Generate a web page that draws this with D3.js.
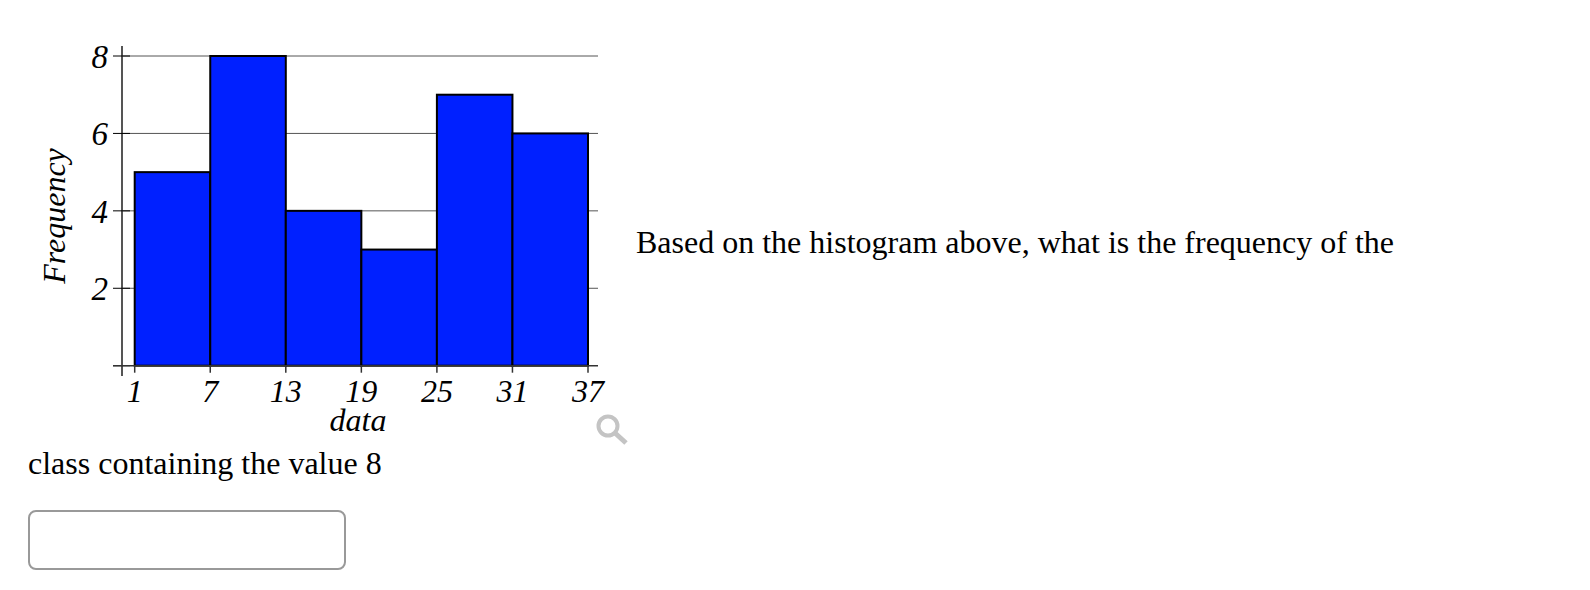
<!DOCTYPE html>
<html>
<head>
<meta charset="utf-8">
<script src="https://cdn.jsdelivr.net/npm/d3@7"></script>
<style>
  html, body { margin: 0; padding: 0; background: #fff; }
  #chart { position: absolute; left: 0; top: 0; }
  text { font-family: "Liberation Serif", serif; fill: #000; }
  .tick-label, .axis-title { font-style: italic; }
  #answer {
    position: absolute; left: 28px; top: 510px; width: 318px; height: 60px;
    box-sizing: border-box; border: 2px solid #999; border-radius: 8px; background: #fff;
  }
</style>
</head>
<body>
<svg id="chart" width="1590" height="590"></svg>
<input id="answer" type="text">
<script>
// Histogram data.
const binEdges    = [ 1, 7, 13, 19, 25, 31, 37 ];
const frequencies = [ 5, 8, 4, 3, 7, 6 ];
const yTicks      = [ 2, 4, 6, 8 ];

const questionTop    = 'Based on the histogram above, what is the frequency of the';
const questionBottom = 'class containing the value 8';

const svg = d3.select( '#chart' );

// Scales. Axes cross slightly outside of the first bin.
const x = d3.scaleLinear( ).domain( [ 1, 37 ] ).range( [ 134.7, 588 ] );
const y = d3.scaleLinear( ).domain( [ 0, 8 ] ).range( [ 365.7, 56 ] );

const axisX = 122;
const plotRight = 598;

// Grid lines, behind the bars.
svg.append( 'g' ).selectAll( 'line' )
  .data( yTicks )
  .enter( ).append( 'line' )
    .attr( 'x1', axisX )
    .attr( 'x2', plotRight )
    .attr( 'y1', d => y( d ) )
    .attr( 'y2', d => y( d ) )
    .attr( 'stroke', '#555' )
    .attr( 'stroke-width', 1 );

// Bars.
svg.append( 'g' ).selectAll( 'rect' )
  .data( frequencies )
  .enter( ).append( 'rect' )
    .attr( 'x', ( d, i ) => x( binEdges[i] ) )
    .attr( 'y', d => y( d ) )
    .attr( 'width', ( d, i ) => x( binEdges[i + 1] ) - x( binEdges[i] ) )
    .attr( 'height', d => y( 0 ) - y( d ) )
    .attr( 'fill', '#0020ff' )
    .attr( 'stroke', '#000' )
    .attr( 'stroke-width', 2 );

// Vertical axis with ticks.
svg.append( 'line' )
  .attr( 'x1', axisX ).attr( 'x2', axisX )
  .attr( 'y1', 46 ).attr( 'y2', 376 )
  .attr( 'stroke', '#555' ).attr( 'stroke-width', 2 );

svg.append( 'g' ).selectAll( 'line' )
  .data( [ 0 ].concat( yTicks ) )
  .enter( ).append( 'line' )
    .attr( 'x1', 113 )
    .attr( 'x2', 130 )
    .attr( 'y1', d => y( d ) )
    .attr( 'y2', d => y( d ) )
    .attr( 'stroke', '#000' )
    .attr( 'stroke-width', 1 );

svg.append( 'g' ).selectAll( 'text' )
  .data( yTicks )
  .enter( ).append( 'text' )
    .attr( 'class', 'tick-label' )
    .attr( 'x', 108 )
    .attr( 'y', d => y( d ) + 12 )
    .attr( 'text-anchor', 'end' )
    .attr( 'font-size', 33 )
    .text( d => d );

// Horizontal axis with ticks.
svg.append( 'line' )
  .attr( 'x1', 113 ).attr( 'x2', plotRight )
  .attr( 'y1', y( 0 ) ).attr( 'y2', y( 0 ) )
  .attr( 'stroke', '#333' ).attr( 'stroke-width', 1.5 );

svg.append( 'g' ).selectAll( 'line' )
  .data( binEdges )
  .enter( ).append( 'line' )
    .attr( 'x1', d => x( d ) )
    .attr( 'x2', d => x( d ) )
    .attr( 'y1', y( 0 ) )
    .attr( 'y2', y( 0 ) + 7 )
    .attr( 'stroke', '#333' )
    .attr( 'stroke-width', 1.5 );

svg.append( 'g' ).selectAll( 'text' )
  .data( binEdges )
  .enter( ).append( 'text' )
    .attr( 'class', 'tick-label' )
    .attr( 'x', d => x( d ) )
    .attr( 'y', 402 )
    .attr( 'text-anchor', 'middle' )
    .attr( 'font-size', 32 )
    .text( d => d );

// Axis titles.
svg.append( 'text' )
  .attr( 'class', 'axis-title' )
  .attr( 'x', 358 )
  .attr( 'y', 431 )
  .attr( 'text-anchor', 'middle' )
  .attr( 'font-size', 32 )
  .text( 'data' );

svg.append( 'text' )
  .attr( 'class', 'axis-title' )
  .attr( 'transform', 'translate( 65, 216 ) rotate( -90 )' )
  .attr( 'text-anchor', 'middle' )
  .attr( 'font-size', 32 )
  .text( 'Frequency' );

// Magnifier icon.
const icon = svg.append( 'g' )
  .attr( 'fill', 'none' )
  .attr( 'stroke', '#c4c4c4' );
icon.append( 'circle' )
  .attr( 'cx', 608 ).attr( 'cy', 426 ).attr( 'r', 9.5 )
  .attr( 'stroke-width', 4 );
icon.append( 'line' )
  .attr( 'x1', 615 ).attr( 'y1', 433 ).attr( 'x2', 626 ).attr( 'y2', 443 )
  .attr( 'stroke-width', 5 );

// Question text, wrapped around the image.
svg.append( 'text' )
  .attr( 'x', 636 )
  .attr( 'y', 253 )
  .attr( 'font-size', 32 )
  .text( questionTop );

svg.append( 'text' )
  .attr( 'x', 28 )
  .attr( 'y', 474 )
  .attr( 'font-size', 32 )
  .text( questionBottom );
</script>
</body>
</html>
